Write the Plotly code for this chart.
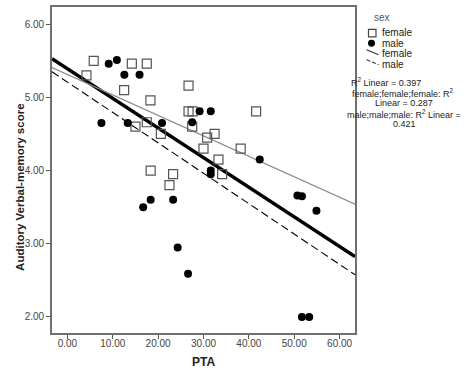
import numpy as np
import plotly.graph_objects as go

# ---- data ----
female_pta = [4.2, 5.8, 14.2, 17.5, 12.5, 18.3, 15.0, 17.5, 20.6, 26.7, 26.7, 27.6,
              27.5, 30.8, 32.45, 30.0, 33.3, 34.1, 38.2, 41.6, 18.35, 23.3, 22.5]
female_score = [5.30, 5.50, 5.46, 5.46, 5.10, 4.96, 4.60, 4.66, 4.50, 5.16, 4.81, 4.81,
                4.60, 4.45, 4.50, 4.30, 4.15, 3.95, 4.30, 4.81, 4.00, 3.95, 3.80]
male_pta = [7.5, 9.1, 10.9, 12.55, 15.9, 13.3, 20.85, 27.5, 29.15, 31.6, 31.6, 31.6,
            42.4, 50.7, 51.7, 54.9, 51.7, 53.3, 16.7, 18.35, 23.3, 24.3, 26.6]
male_score = [4.65, 5.46, 5.51, 5.31, 5.31, 4.65, 4.65, 4.66, 4.81, 4.81, 4.00, 3.95,
              4.15, 3.66, 3.65, 3.45, 2.00, 2.00, 3.50, 3.60, 3.60, 2.95, 2.59]

fit_names = ["total", "female", "male"]
fit_intercepts = [5.392, 5.313, 5.209]
fit_slopes = [-0.0405, -0.02797, -0.04153]
r2_lines = ["R<sup>2</sup> Linear = 0.397",
            "female;female;female: R<sup>2</sup>",
            "Linear = 0.287",
            "male;male;male: R<sup>2</sup> Linear =",
            "0.421"]

x_ticks = [0, 10, 20, 30, 40, 50, 60]
y_ticks = [2, 3, 4, 5, 6]

# ---- layout constants ----
W, H = 474, 379
ML, MR, MT, MB = 52, 119, 5, 46
PW, PH = W - ML - MR, H - MT - MB
XR = [-3.4, 63.4]
YR = [1.78, 6.235]
FONT = "Liberation Sans, Arial, sans-serif"


def px(x):
    return (x - ML) / PW


def py(y):
    return (H - MB - y) / PH


fig = go.Figure()

# fit lines
xs = np.array(XR)
styles = {
    "total": dict(color="black", width=3.5, dash="solid"),
    "female": dict(color="#8a8a8a", width=1.2, dash="solid"),
    "male": dict(color="black", width=1.1, dash="8px,4px"),
}
for name, b0, b1 in zip(fit_names, fit_intercepts, fit_slopes):
    fig.add_trace(go.Scatter(x=xs, y=b0 + b1 * xs, mode="lines",
                             line=styles[name], showlegend=False, hoverinfo="skip"))

fig.add_trace(go.Scatter(x=female_pta, y=female_score, mode="markers",
                         marker=dict(symbol="square-open", size=9,
                                     color="#555555", line=dict(width=1.2, color="#555555")),
                         showlegend=False))
fig.add_trace(go.Scatter(x=male_pta, y=male_score, mode="markers",
                         marker=dict(symbol="circle", size=8, color="black"),
                         showlegend=False))

axis_common = dict(showgrid=False, zeroline=False, showline=True, mirror=True,
                   linecolor="#707070", linewidth=1.6, ticks="outside", ticklen=4,
                   tickcolor="#555555", tickwidth=1.3,
                   tickfont=dict(family=FONT, size=10, color="#444444"))

fig.update_xaxes(range=XR, tickvals=x_ticks, ticktext=[f"{v:.2f}" for v in x_ticks],
                 ticklabelstandoff=-4, **axis_common)
fig.update_yaxes(range=YR, tickvals=y_ticks, ticktext=[f"{v:.2f}" for v in y_ticks],
                 **axis_common)

ann = []


def add_text(x, y, text, font, xanchor="center", **kw):
    ann.append(dict(x=px(x), y=py(y), xref="paper", yref="paper", text=text,
                    xanchor=xanchor, yanchor="middle", showarrow=False, font=font, **kw))


# axis titles
add_text(203, 362, "<b>PTA</b>", dict(family=FONT, size=12, color="#222222"))
add_text(20, 187, "<b>Auditory Verbal-memory score</b>",
         dict(family=FONT, size=11.5, color="#222222"), textangle=-90)
# legend
lf = dict(family=FONT, size=10, color="#222222")
add_text(382, 16, "sex", dict(family=FONT, size=10, color="#555555"))
for ty, t in [(31, "female"), (41.5, "male"), (52, "female"), (62.5, "male")]:
    add_text(380, ty, t, lf, xanchor="left")
# R2 texts
rf = dict(family=FONT, size=9, color="#222222")
for (cx, cy), t in zip([(386, 80), (403, 91.3), (404, 101.7), (404, 112.3), (404, 122.7)],
                       r2_lines):
    add_text(cx, cy, t, rf)

shapes = [
    # legend square
    dict(type="rect", xref="paper", yref="paper", x0=px(368.5), x1=px(376), y0=py(27.5), y1=py(35),
         line=dict(color="#444444", width=1.2), fillcolor="white"),
    # legend dot
    dict(type="circle", xref="paper", yref="paper", x0=px(368), x1=px(375), y0=py(38), y1=py(45),
         line=dict(color="black", width=0), fillcolor="black"),
    # legend female line
    dict(type="line", xref="paper", yref="paper", x0=px(366.5), x1=px(378.5), y0=py(48), y1=py(53),
         line=dict(color="#333333", width=1.1)),
    # legend male dashed line
    dict(type="line", xref="paper", yref="paper", x0=px(366.5), x1=px(378.5), y0=py(58), y1=py(63),
         line=dict(color="#333333", width=1.1, dash="4px,2px")),
]

fig.update_layout(width=W, height=H, margin=dict(l=ML, r=MR, t=MT, b=MB),
                  paper_bgcolor="white", plot_bgcolor="white",
                  annotations=ann, shapes=shapes, showlegend=False,
                  font=dict(family=FONT))

fig.write_html("out.html", config={"displayModeBar": False},
               post_script="document.body.style.margin='0';document.body.style.padding='0';")
